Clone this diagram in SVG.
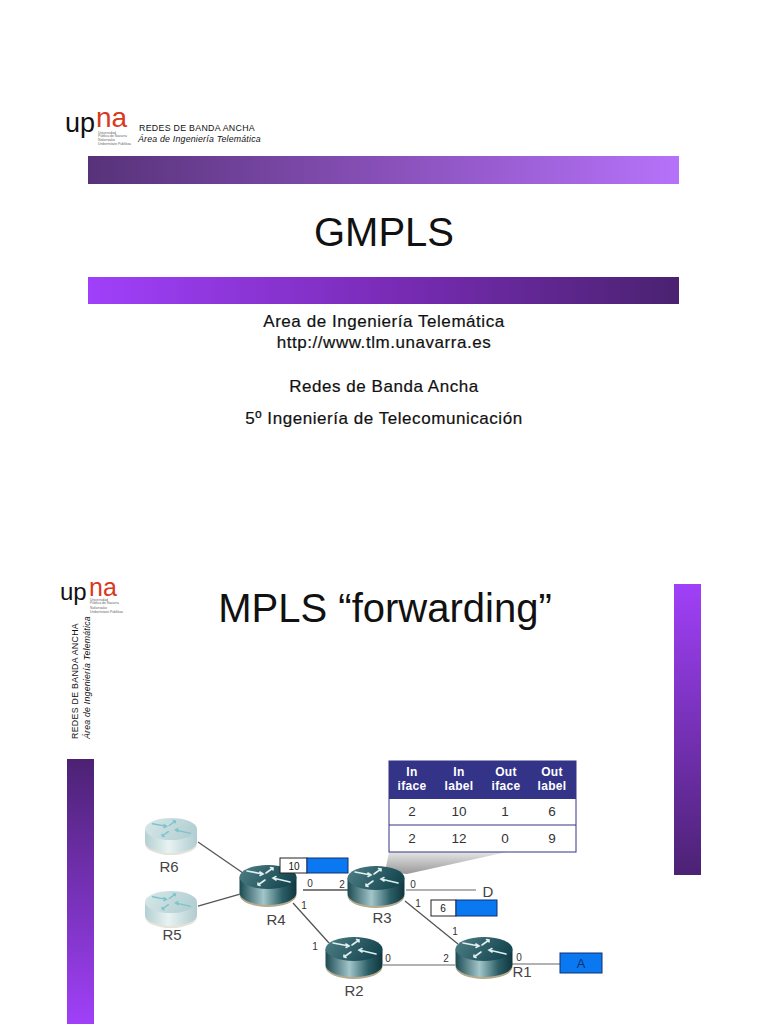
<svg xmlns="http://www.w3.org/2000/svg" width="768" height="1024" viewBox="0 0 768 1024">
<style>
text{font-family:"Liberation Sans",Arial,sans-serif;fill:#111}
.lnk{stroke:#555;stroke-width:1.3;fill:none}
.lt{stroke:#999;stroke-width:1.3;fill:none}
.n{font-size:10px;fill:#333;text-anchor:middle}
.rl{font-size:15px;fill:#444;text-anchor:middle}
.sub{font-size:17px;letter-spacing:.55px;text-anchor:middle;stroke:#111;stroke-width:.2px}
.th{font-size:12px;font-weight:bold;fill:#fff;text-anchor:middle;letter-spacing:.3px}
.td{font-size:13.500px;fill:#333;text-anchor:middle}
.blue{fill:#0a78f0;stroke:#103070;stroke-width:1}
.wh{fill:#fff;stroke:#222;stroke-width:1}
.tiny{font-size:3.400px;fill:#666}
.r1{font-size:8.800px;letter-spacing:.3px}
.r2{font-size:8.800px;font-style:italic;letter-spacing:.2px}
.na{fill:#d63a20;-webkit-text-stroke:.5px #d63a20}
</style>
<defs>
<linearGradient id="g1" x1="0" x2="1" y1="0" y2="0"><stop offset="0" stop-color="#573279"/><stop offset="0.5" stop-color="#8850b8"/><stop offset="1" stop-color="#b672fa"/></linearGradient>
<linearGradient id="g2" x1="0" x2="1" y1="0" y2="0"><stop offset="0" stop-color="#a040fa"/><stop offset="0.5" stop-color="#7a2cb8"/><stop offset="1" stop-color="#4a2270"/></linearGradient>
<linearGradient id="g3" x1="0" x2="0" y1="0" y2="1"><stop offset="0" stop-color="#a040f8"/><stop offset="1" stop-color="#4c2274"/></linearGradient>
<linearGradient id="g4" x1="0" x2="0" y1="0" y2="1"><stop offset="0" stop-color="#4c2274"/><stop offset="1" stop-color="#a040f8"/></linearGradient>
<linearGradient id="sideD" x1="0" x2="1" y1="0" y2="0"><stop offset="0" stop-color="#1c4a52"/><stop offset="0.42" stop-color="#a2c6ca"/><stop offset="0.75" stop-color="#2c5e66"/><stop offset="1" stop-color="#10363e"/></linearGradient>
<linearGradient id="topD" x1="0" x2="1" y1="0" y2="0.3"><stop offset="0" stop-color="#4f8088"/><stop offset="1" stop-color="#174750"/></linearGradient>
<linearGradient id="sideL" x1="0" x2="1" y1="0" y2="0"><stop offset="0" stop-color="#b4d0d2"/><stop offset="0.45" stop-color="#e8f2f2"/><stop offset="1" stop-color="#b0ccd0"/></linearGradient>
<linearGradient id="topL" x1="0" x2="1" y1="0" y2="0.3"><stop offset="0" stop-color="#d8e8e9"/><stop offset="1" stop-color="#b4d0d3"/></linearGradient>
<linearGradient id="fan" x1="0" x2="0" y1="0" y2="1"><stop offset="0" stop-color="#e4e4e4"/><stop offset="1" stop-color="#999"/></linearGradient>
<g id="arrows" fill="none" stroke-width="1.600" stroke-linecap="round">
<path d="M-21-6 L-5-3 M-8-5 L-5-3 L-8-1.500 M-2-4 L5-9 M2.500-9.500 L5-9 L5-7 M5 1 L22 5 M8-.5 L5 1 L8 3 M-3 3 L-10 8 M-8 8.500 L-10 8 L-10 6"/>
</g>
<g id="routerD">
<ellipse cx="0" cy="18" rx="28.500" ry="12" fill="#b5a98e"/>
<path d="M-28.500 0V16A28.500 12 0 0 0 28.500 16V0Z" fill="url(#sideD)"/>
<ellipse cx="0" cy="0" rx="28.500" ry="12" fill="url(#topD)"/>
<use href="#arrows" stroke="#dfeeee"/>
</g>
<g id="routerL">
<ellipse cx="0" cy="15" rx="26" ry="11" fill="#e6e3d8"/>
<path d="M-26 0V13A26 11 0 0 0 26 13V0Z" fill="url(#sideL)"/>
<ellipse cx="0" cy="0" rx="26" ry="11" fill="url(#topL)"/>
<use href="#arrows" stroke="#7cc4cc" transform="scale(.88)"/>
</g>
</defs>
<rect width="768" height="1024" fill="#fff"/>

<g id="slide1">
<text x="65" y="132" style="font-size:27px">up</text>
<text x="96" y="127" class="na" style="font-size:28px">na</text>
<text x="98" y="133.500" class="tiny">Universidad</text>
<text x="98" y="136.500" class="tiny">Pública de Navarra</text>
<text x="98" y="141" class="tiny">Nafarroako</text>
<text x="98" y="144.500" class="tiny">Unibertsitate Publikoa</text>
<text x="139" y="130.500" class="r1">REDES DE BANDA ANCHA</text>
<text x="138" y="142" class="r2">Área de Ingeniería Telemática</text>
<rect x="88" y="156" width="591" height="28" fill="url(#g1)"/>
<text x="384" y="246" style="font-size:40px;text-anchor:middle">GMPLS</text>
<rect x="88" y="277" width="591" height="27" fill="url(#g2)"/>
<text x="384" y="327" class="sub">Area de Ingeniería Telemática</text>
<text x="384" y="348" class="sub">http://www.tlm.unavarra.es</text>
<text x="384" y="392" class="sub">Redes de Banda Ancha</text>
<text x="384" y="424" class="sub">5º Ingeniería de Telecomunicación</text>
</g>

<g id="slide2">
<text x="60" y="600" style="font-size:24px">up</text>
<text x="89" y="596" class="na" style="font-size:25px">na</text>
<text x="90" y="600.500" class="tiny">Universidad</text>
<text x="90" y="604" class="tiny">Pública de Navarra</text>
<text x="90" y="609" class="tiny">Nafarroako</text>
<text x="90" y="612.500" class="tiny">Unibertsitate Publikoa</text>
<text transform="translate(78 739) rotate(-90)" class="r1">REDES DE BANDA ANCHA</text>
<text transform="translate(90 739) rotate(-90)" class="r2">Área de Ingeniería Telemática</text>
<rect x="67" y="759" width="27" height="265" fill="url(#g4)"/>
<rect x="674" y="584" width="27" height="291" fill="url(#g3)"/>
<text x="385" y="622" style="font-size:40px;text-anchor:middle">MPLS “forwarding”</text>
</g>

<g id="callout">
<polygon points="389,852 507,852 407,874 385,872" fill="url(#fan)"/>
</g>
<g id="connectors">
<line class="lnk" x1="198" y1="842" x2="243" y2="873"/>
<line class="lnk" x1="198" y1="906" x2="240" y2="894"/>
<line class="lnk" x1="303" y1="890" x2="348" y2="890"/>
<line class="lnk" x1="293" y1="903" x2="329" y2="943"/>
<line class="lt" x1="406" y1="890" x2="476" y2="890"/>
<line class="lnk" x1="405" y1="901" x2="458" y2="944"/>
<line class="lt" x1="383" y1="965" x2="455" y2="965"/>
<line class="lt" x1="512" y1="964" x2="560" y2="964"/>
</g>

<g id="R6"><use href="#routerL" transform="translate(171 829)"/><text class="rl" x="169" y="872">R6</text></g>
<g id="R5"><use href="#routerL" transform="translate(171 902)"/><text class="rl" x="172" y="940">R5</text></g>
<g id="R4"><use href="#routerD" transform="translate(268 877)"/><text class="rl" x="276" y="925">R4</text></g>
<g id="R3"><use href="#routerD" transform="translate(376 878)"/><text class="rl" x="382" y="923">R3</text></g>
<g id="R2"><use href="#routerD" transform="translate(354 949)"/><text class="rl" x="354" y="996">R2</text></g>
<g id="R1"><use href="#routerD" transform="translate(484 949)"/><text class="rl" x="522" y="977">R1</text></g>

<g id="labels">
<text class="n" x="310" y="887">0</text>
<text class="n" x="342" y="888">2</text>
<text class="n" x="304" y="909">1</text>
<text class="n" x="315" y="950">1</text>
<text class="n" x="413" y="888">0</text>
<text class="n" x="418" y="907">1</text>
<text class="n" x="455" y="935">1</text>
<text class="n" x="388" y="962">0</text>
<text class="n" x="446" y="962">2</text>
<text class="n" x="519" y="961">0</text>
<text x="488" y="897" style="font-size:15px;fill:#444;text-anchor:middle">D</text>
</g>

<g id="label10"><rect class="wh" x="280" y="858" width="27" height="15"/><rect class="blue" x="307" y="858" width="41" height="15"/><text x="294" y="870" style="font-size:10px;text-anchor:middle">10</text></g>
<g id="label6"><rect class="wh" x="431" y="900" width="25" height="16"/><rect class="blue" x="456" y="900" width="41" height="16"/><text x="443" y="912" style="font-size:10px;text-anchor:middle">6</text></g>
<g id="hostA"><rect class="blue" x="560" y="953" width="42" height="20"/><text x="581" y="968" style="font-size:13px;fill:#103070;text-anchor:middle">A</text></g>

<g id="table">
<rect x="389" y="761" width="187" height="91" fill="#fff" stroke="#333388" stroke-width="1"/>
<rect x="389" y="761" width="187" height="38" fill="#333388"/>
<line x1="389" y1="825" x2="576" y2="825" stroke="#333388"/>
<text class="th" x="412" y="776">In</text><text class="th" x="412" y="790">iface</text>
<text class="th" x="459" y="776">In</text><text class="th" x="459" y="790">label</text>
<text class="th" x="506" y="776">Out</text><text class="th" x="506" y="790">iface</text>
<text class="th" x="552" y="776">Out</text><text class="th" x="552" y="790">label</text>
<text class="td" x="412" y="816">2</text><text class="td" x="459" y="816">10</text><text class="td" x="505" y="816">1</text><text class="td" x="552" y="816">6</text>
<text class="td" x="412" y="843">2</text><text class="td" x="459" y="843">12</text><text class="td" x="505" y="843">0</text><text class="td" x="552" y="843">9</text>
</g>
</svg>
